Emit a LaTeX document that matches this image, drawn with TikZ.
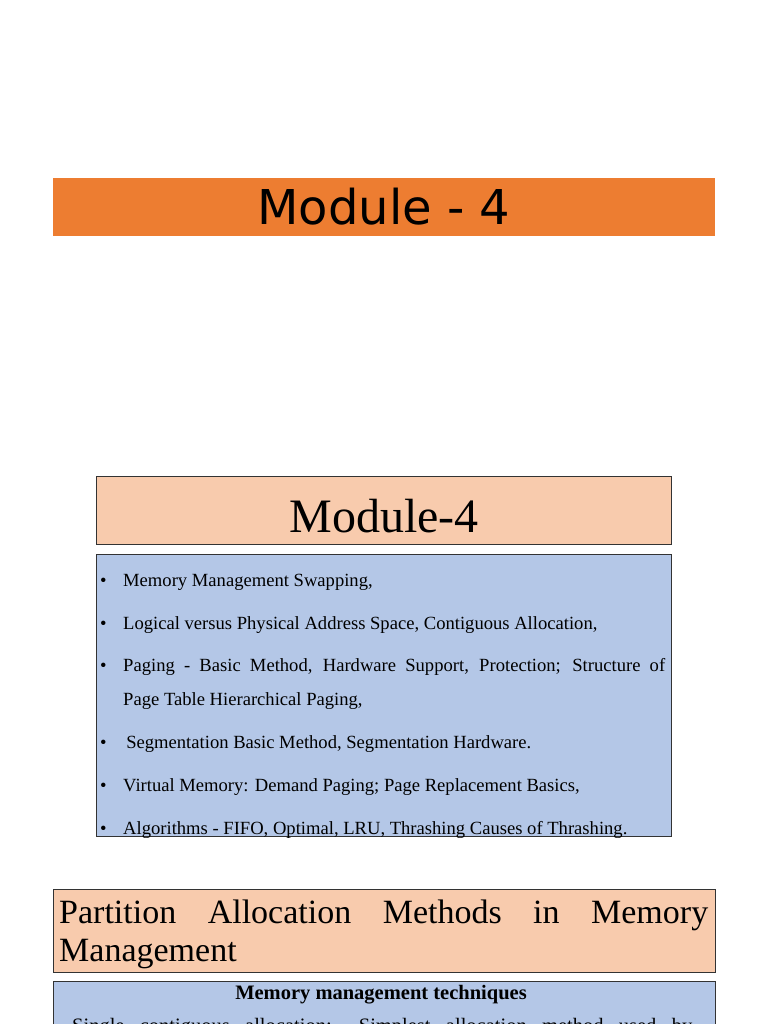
\documentclass[tikz,border=0pt]{standalone}
\usepackage{fontspec}
\setmainfont{Liberation Serif}
\newfontfamily\dv{DejaVu Sans}
\definecolor{orng}{HTML}{ED7D31}
\definecolor{peach}{HTML}{F8CBAD}
\definecolor{lblue}{HTML}{B4C7E7}
\begin{document}
\begin{tikzpicture}[x=1pt,y=-1pt,
  box/.style={draw=black!80,line width=0.8pt,inner sep=0},
  bul/.style={anchor=base west,font=\fontsize{18.6}{22}\selectfont,inner sep=0}]
\useasboundingbox (0,0) rectangle (768,1024);
\clip (0,0) rectangle (768,1024);
\fill[white] (0,0) rectangle (768,1024);
\fill[orng] (53,178) rectangle (715,236);
\node (t1) at (384,207) {\dv\fontsize{48}{54}\selectfont Module - 4};
\filldraw[box,fill=peach] (96,476) rectangle (671,544);
\node (t2) at (384,516) {\fontsize{48}{54}\selectfont Module-4};
\filldraw[box,fill=lblue] (96,554) rectangle (671,836);
\node[bul] (b1) at (123,586) {Memory Management Swapping,};
\node[bul] (b2) at (123,629) {Logical versus Physical Address Space, Contiguous Allocation,};
\node[bul] (b3) at (123,671) {\makebox[542pt][s]{Paging - Basic Method, Hardware Support, Protection; Structure of}};
\node[bul] (b3b) at (123,705) {Page Table Hierarchical Paging,};
\node[bul] (b4) at (123,748) {\,Segmentation Basic Method, Segmentation Hardware.};
\node[bul] (b5) at (123,791) {Virtual Memory: Demand Paging; Page Replacement Basics,};
\node[bul] (b6) at (123,834) {Algorithms - FIFO, Optimal, LRU, Thrashing Causes of Thrashing.};
\foreach \y in {586,629,671,748,791,834} \node[bul] at (100,\y) {\textbullet};
\filldraw[box,fill=peach] (53,889) rectangle (715,972);
\node[anchor=base west,inner sep=0,font=\fontsize{34}{40}\selectfont] (h1) at (59,923) {\makebox[649pt][s]{Partition Allocation Methods in Memory}};
\node[anchor=base west,inner sep=0,font=\fontsize{34}{40}\selectfont] (h2) at (59,961) {Management};
\filldraw[box,fill=lblue] (53,981) rectangle (715,1030);
\node (mt) at (381,995) {\fontsize{20.5}{24}\selectfont\bfseries Memory management techniques};
\node[anchor=base west,inner sep=0,font=\fontsize{20.5}{24}\selectfont] (sc) at (72,1032) {\makebox[620pt][s]{Single contiguous allocation: Simplest allocation method used by}};
\end{tikzpicture}
\end{document}
